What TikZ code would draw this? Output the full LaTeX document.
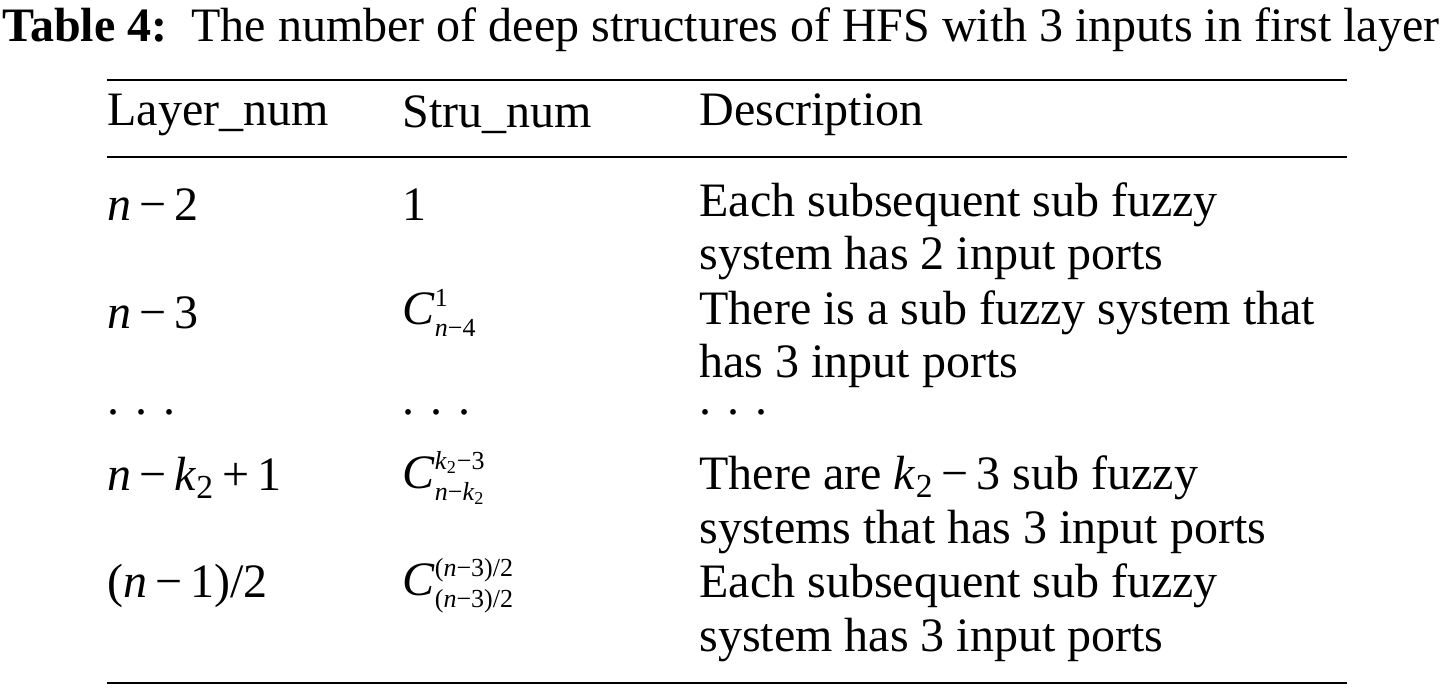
\documentclass[tikz,border=0pt]{standalone}
\usepackage{fontspec}
\setmainfont{Liberation Serif}
\newcommand{\vi}[1]{\textit{#1}}
\newcommand{\mi}{\,−\,}
\newcommand{\pl}{\,+\,}
\newcommand{\sss}[1]{\mbox{\fontsize{13}{14}\selectfont #1}}
\begin{document}
\begin{tikzpicture}[x=0.5pt,y=-0.5pt,
  cell/.style={anchor=west,inner sep=0pt,font=\fontsize{24}{28}\selectfont},
  rule/.style={line width=1.1pt}]
\useasboundingbox (0,0) rectangle (1446,687);
\node[cell,anchor=center] (title) at (721,30) {\textbf{Table 4:}\enspace The number of deep structures of HFS with 3 inputs in first layer};
\coordinate (r1a) at (107,80); \coordinate (r1b) at (1347,80);
\coordinate (r2a) at (107,157); \coordinate (r2b) at (1347,157);
\coordinate (r3a) at (107,683); \coordinate (r3b) at (1347,683);
\draw[rule] (r1a) -- (r1b);
\draw[rule] (r2a) -- (r2b);
\draw[rule] (r3a) -- (r3b);
\node[cell] (h1) at (107,115) {Layer\_num};
\node[cell] (h2) at (402,115) {Stru\_num};
\node[cell] (h3) at (699,115) {Description};
\node[cell] (a1) at (107,205) {\vi{n}\mi2};
\node[cell] (b1) at (402,205) {1};
\node[cell] (c1) at (699,205) {Each subsequent sub fuzzy};
\node[cell] (c1b) at (699,258) {system has 2 input ports};
\node[cell] (a2) at (107,313) {\vi{n}\mi3};
\node[cell] (b2) at (402,313) {$\mbox{\vi{C}}^{\sss{1}}_{\sss{\vi{n}−4}}$};
\node[cell] (c2) at (699,313) {There is a sub fuzzy system that};
\node[cell] (c2b) at (699,366) {has 3 input ports};
\node[cell] (a3) at (107,412) {.\,\,.\,\,.};
\node[cell] (b3) at (402,412) {.\,\,.\,\,.};
\node[cell] (c3) at (699,412) {.\,\,.\,\,.};
\node[cell] (a4) at (107,478) {\vi{n}\mi\vi{k}\textsubscript{2}\pl1};
\node[cell] (b4) at (402,478) {$\mbox{\vi{C}}^{\sss{\vi{k}\textsubscript{2}−3}}_{\sss{\vi{n}−\vi{k}\textsubscript{2}}}$};
\node[cell] (c4) at (699,478) {There are \vi{k}\textsubscript{2}\mi3 sub fuzzy};
\node[cell] (c4b) at (699,532) {systems that has 3 input ports};
\node[cell] (a5) at (107,586) {(\vi{n}\mi1)/2};
\node[cell] (b5) at (402,586) {$\mbox{\vi{C}}^{\sss{(\vi{n}−3)/2}}_{\sss{(\vi{n}−3)/2}}$};
\node[cell] (c5) at (699,586) {Each subsequent sub fuzzy};
\node[cell] (c5b) at (699,640) {system has 3 input ports};
\end{tikzpicture}
\end{document}
